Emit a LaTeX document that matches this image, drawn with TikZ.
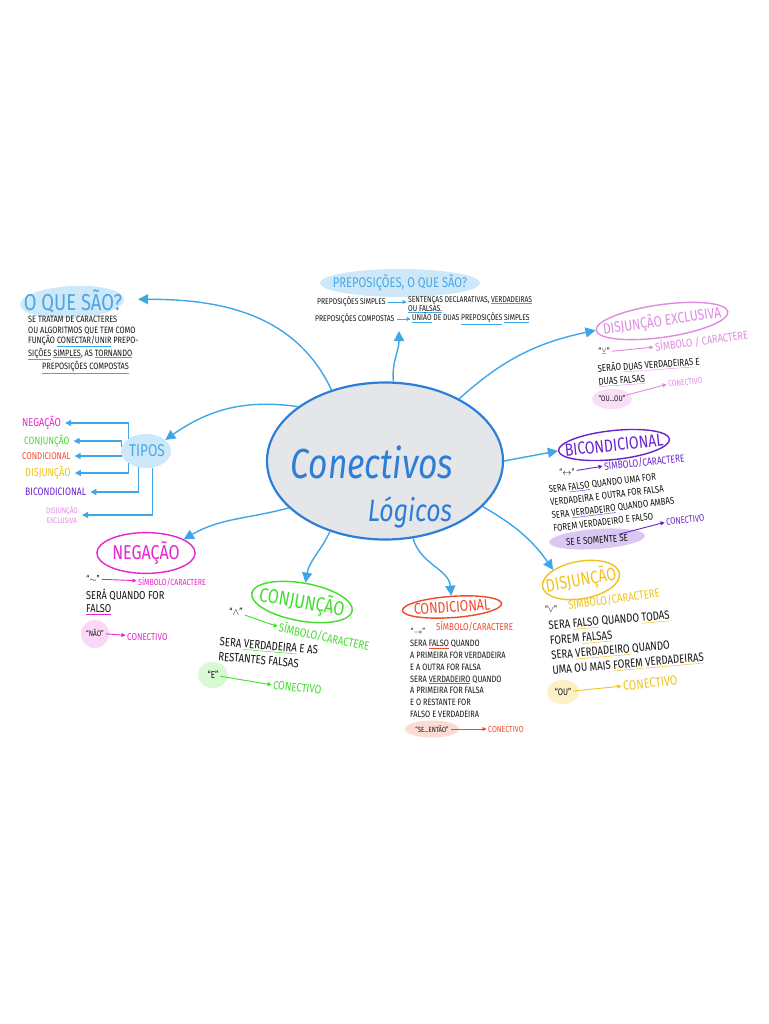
\documentclass[tikz,border=0pt]{standalone}
\usepackage{fontspec}
\usepackage{amsmath,amssymb}
\usepackage{tikz}
\usetikzlibrary{
	arrows.meta,
	positioning,
	shapes.geometric
}
\newfontfamily\hand{Fira Sans}[FakeStretch=0.8]
\newcommand{\fz}[2]{\hand\fontsize{#1}{#2}\selectfont}
\newcommand{\mk}[2]{{\color{#1}\underline{\color{ink}#2}}}
\definecolor{lnblue}{HTML}{3FA6E8}
\definecolor{cblue}{HTML}{2D7ED6}
\definecolor{tblue}{HTML}{4AA7E4}
\definecolor{lblue}{HTML}{CDE8F8}
\definecolor{cgray}{HTML}{E5E6EA}
\definecolor{ink}{HTML}{151515}
\definecolor{cmag}{HTML}{E824D2}
\definecolor{cgreen}{HTML}{3FDF2A}
\definecolor{cred}{HTML}{EF4A2C}
\definecolor{cyel}{HTML}{F2C21C}
\definecolor{cpur}{HTML}{6A22CF}
\definecolor{cpink}{HTML}{DE8CE2}

\begin{document}
\begin{tikzpicture}[
		x=1pt, y=1pt,
		core/.style={ellipse, draw=cblue, line width=2.2pt, fill=cgray, minimum width=236pt, minimum height=157pt},
		link/.style={-{Triangle[length=10pt,width=10pt]}, line width=1.4pt, draw=lnblue},
		tlink/.style={-{Triangle[length=6pt,width=6pt]}, line width=1.1pt, draw=lnblue, shorten >=4pt},
		inarrow/.style={-{Triangle[length=4pt,width=4pt]}, line width=.9pt, shorten >=1.5pt, shorten <=2pt},
		heading/.style={ellipse, draw, line width=1.4pt},
		blob/.style={ellipse, inner sep=0pt},
		txt/.style={inner sep=0pt, text=ink},
		para/.style={align=left, inner sep=0pt, text=ink, anchor=north west}
		]
		\useasboundingbox[fill=white] (0,0) rectangle (768,-1024);
		
		% =========================
		% Centre
		% =========================
		\node[core] (core) at (385,-461) {};
		\node[text=cblue, font=\fz{42}{42}\itshape] (conect) at (372,-462) {Conectivos};
		\node[text=cblue, font=\fz{31}{31}\itshape] (logic) at (410,-512) {Lógicos};
		
		% =========================
		% O que são?
		% =========================
		\node[blob, fill=lblue, minimum width=104pt, minimum height=32pt, rotate=3] (oqueb) at (72,-302) {};
		\node[txt, text=tblue, font=\fz{23}{23}] (oque) at (73,-301) {O QUE SÃO?};
		\node[para, font=\fz{9.2}{10.6}] (oquetxt) at (28,-316) {SE TRATAM DE CARACTERES\\
			OU ALGORITMOS QUE TEM COMO\\
			FUNÇÃO \mk{lnblue}{CONECTAR/UNIR} PREPO-\\
			\mk{lnblue}{SIÇÕES} \mk{lnblue}{SIMPLES}, AS \mk{lnblue}{TORNANDO}\\
			\hspace*{14pt}\mk{lnblue}{PREPOSIÇÕES COMPOSTAS}};
		
		% =========================
		% Preposições, o que são?
		% =========================
		\node[blob, fill=lblue, minimum width=160pt, minimum height=28pt] (prepob) at (400,-283) {};
		\node[txt, text=tblue, font=\fz{14}{14}] (prepo) at (400,-283) {PREPOSIÇÕES, O QUE SÃO?};
		\node[txt, anchor=west, font=\fz{8.4}{9}] (psimp) at (317,-302) {PREPOSIÇÕES SIMPLES};
		\node[para, font=\fz{8.4}{9}] (psent) at (408,-296) {SENTENÇAS DECLARATIVAS, \mk{lnblue}{VERDADEIRAS}\\ \mk{lnblue}{OU FALSAS.}};
		\node[txt, anchor=west, font=\fz{8.4}{9}] (pcomp) at (315,-319) {PREPOSIÇÕES COMPOSTAS};
		\node[txt, anchor=west, font=\fz{8.4}{9}] (puniao) at (412,-319) {\mk{lnblue}{UNIÃO} DE DUAS \mk{lnblue}{PREPOSIÇÕES} \mk{lnblue}{SIMPLES}};
		\coordinate (prepotip) at (399,-331);
		\draw[inarrow, lnblue] (psimp.east) -- (psimp.east -| psent.west);
		\draw[inarrow, lnblue] (pcomp) -- (puniao);
		
		% =========================
		% Disjunção exclusiva
		% =========================
		\node[heading, draw=cpink, text=cpink, font=\fz{15}{15}, rotate=8, inner xsep=-12.5pt, inner ysep=3pt] (dex) at (662,-321) {DISJUNÇÃO EXCLUSIVA};
		\node[txt, font=\fz{9}{9}] (dexsym) at (604,-352) {“$\veebar$”};
		\node[txt, text=cpink, font=\fz{11.5}{11.5}, rotate=8, anchor=west] (dexcar) at (655,-347) {SÍMBOLO / CARACTERE};
		\draw[inarrow, cpink] (dexsym) -- (dexcar.west);
		\node[para, font=\fz{10}{13}, rotate=4] (dextxt) at (597,-363) {SERÃO \mk{cpink}{DUAS} \mk{cpink}{VERDADEIRAS} E\\ \mk{cpink}{DUAS FALSAS}};
		\node[blob, fill=cpink!28, minimum width=40pt, minimum height=20pt] (dexb) at (612,-399) {};
		\node[txt, font=\fz{8}{8}] (dexou) at (612,-399) {“OU...OU”};
		\node[txt, text=cpink, font=\fz{8.5}{8.5}, rotate=6, anchor=west] (dexcon) at (668,-384) {CONECTIVO};
		\draw[inarrow, cpink] (dexou) -- (dexcon.west);
		
		% =========================
		% Tipos
		% =========================
		\node[blob, fill=lblue, minimum width=50pt, minimum height=34pt] (tiposb) at (146,-451) {};
		\node[txt, text=tblue, font=\fz{17}{17}] (tipos) at (147,-451) {TIPOS};
		\node[txt, text=cmag, font=\fz{11.5}{11.5}, anchor=west] (tneg) at (22,-423) {NEGAÇÃO};
		\node[txt, text=cgreen, font=\fz{10.5}{10.5}, anchor=west] (tconj) at (24,-441) {CONJUNÇÃO};
		\node[txt, text=cred, font=\fz{9.8}{9.8}, anchor=west] (tcond) at (22,-456) {CONDICIONAL};
		\node[txt, text=cyel, font=\fz{11.5}{11.5}, anchor=west] (tdisj) at (25,-473) {DISJUNÇÃO};
		\node[txt, text=cpur, font=\fz{10.8}{10.8}, anchor=west] (tbic) at (25,-492) {BICONDICIONAL};
		\node[txt, text=cpink, font=\fz{8}{9.5}, align=center] (tdex) at (62,-515) {DISJUNÇÃO\\ EXCLUSIVA};
		\draw[tlink] (tiposb.145) |- (tneg.east);
		\draw[tlink] (tiposb.170) |- (tconj.east);
		\draw[tlink] (tiposb.190) |- (tcond.east);
		\draw[tlink] (tiposb.215) |- (tdisj.east);
		\draw[tlink] (tiposb.245) |- (tbic.east);
		\draw[tlink] (tiposb.290) |- (tdex.east);
		
		% =========================
		% Bicondicional
		% =========================
		\node[heading, draw=cpur, text=cpur, font=\fz{17.5}{17.5}, rotate=6, inner xsep=-10pt, inner ysep=4pt] (bic) at (614,-445) {BICONDICIONAL};
		\node[txt, font=\fz{9}{9}] (bicsym) at (567,-472) {“$\leftrightarrow$”};
		\node[txt, text=cpur, font=\fz{10.5}{10.5}, rotate=6, anchor=west] (biccar) at (604,-466) {SÍMBOLO/CARACTERE};
		\draw[inarrow, cpur] (bicsym) -- (biccar.west);
		\node[para, font=\fz{9.8}{13}, rotate=7] (bictxt) at (548,-486) {SERA \mk{cpur}{FALSO} QUANDO UMA FOR\\
			VERDADEIRA E OUTRA FOR FALSA\\
			SERA \mk{cpur}{VERDADEIRO} QUANDO AMBAS\\
			FOREM VERDADEIRO E FALSO};
		\node[blob, fill=cpur!25, minimum width=96pt, minimum height=20pt, rotate=4] (bicb) at (597,-539) {};
		\node[txt, font=\fz{10}{10}, rotate=4] (bicse) at (597,-540) {SE E SOMENTE SE};
		\node[txt, text=cpur, font=\fz{9.5}{9.5}, rotate=6, anchor=west] (biccon) at (666,-522) {CONECTIVO};
		\draw[inarrow, cpur] (bicse) -- (biccon.west);
		
		% =========================
		% Negação
		% =========================
		\node[heading, draw=cmag, text=cmag, font=\fz{20}{20}, inner xsep=1pt, inner ysep=3pt] (neg) at (146,-553) {NEGAÇÃO};
		\node[txt, font=\fz{9.5}{9.5}] (negsym) at (93,-579) {“$\sim$”};
		\node[txt, text=cmag, font=\fz{8.8}{8.8}, anchor=west] (negcar) at (138,-582) {SÍMBOLO/CARACTERE};
		\draw[inarrow, cmag] (negsym) -- (negcar);
		\node[para, font=\fz{11.5}{13}] (negtxt) at (86,-589) {SERÁ QUANDO FOR\\ \mk{cmag}{FALSO}};
		\node[blob, fill=cmag!18, minimum size=28pt] (negb) at (95,-634) {};
		\node[txt, font=\fz{8}{8}] (negnao) at (95,-633) {“NÃO”};
		\node[txt, text=cmag, font=\fz{10}{10}, anchor=west] (negcon) at (127,-637) {CONECTIVO};
		\draw[inarrow, cmag] (negnao) -- (negcon);
		
		% =========================
		% Conjunção
		% =========================
		\node[heading, draw=cgreen, text=cgreen, font=\fz{20}{20}, rotate=-10, inner xsep=-7pt, inner ysep=2pt] (conj) at (302,-602) {CONJUNÇÃO};
		\node[txt, font=\fz{10}{10}] (conjsym) at (236,-612) {“$\wedge$”};
		\node[txt, text=cgreen, font=\fz{12}{12}, rotate=-12, anchor=west] (conjcar) at (279,-627) {SÍMBOLO/CARACTERE};
		\draw[inarrow, cgreen] (conjsym) -- (conjcar.west);
		\node[para, font=\fz{12}{15}, rotate=-5] (conjtxt) at (220,-637) {SERA \mk{cgreen}{VERDADEIRA} E AS\\ RESTANTES FALSAS};
		\node[blob, fill=cgreen!20, minimum width=30pt, minimum height=26pt] (conjb) at (213,-675) {};
		\node[txt, font=\fz{10}{10}] (conje) at (213,-675) {“E”};
		\node[txt, text=cgreen, font=\fz{12}{12}, rotate=-6, anchor=west] (conjcon) at (273,-685) {CONECTIVO};
		\draw[inarrow, cgreen] (conje) -- (conjcon.west);
		
		% =========================
		% Condicional
		% =========================
		\node[heading, draw=cred, text=cred, font=\fz{15.5}{15.5}, rotate=4, inner xsep=-3pt, inner ysep=2pt] (cond) at (452,-607) {CONDICIONAL};
		\node[txt, font=\fz{8.5}{8.5}] (condsym) at (418,-631) {“$\rightarrow$”};
		\node[txt, text=cred, font=\fz{10}{10}, anchor=west] (condcar) at (436,-626) {SÍMBOLO/CARACTERE};
		\node[para, font=\fz{9.2}{11.8}] (condtxt) at (410,-640) {SERA \mk{cred}{FALSO} QUANDO\\
			A PRIMEIRA FOR VERDADEIRA\\
			E A OUTRA FOR FALSA\\
			SERA \mk{cred}{VERDADEIRO} QUANDO\\
			A PRIMEIRA FOR FALSA\\
			E O RESTANTE FOR\\
			FALSO E VERDADEIRA};
		\node[blob, fill=cred!20, minimum width=54pt, minimum height=17pt] (condb) at (432,-729) {};
		\node[txt, font=\fz{7.5}{7.5}] (condse) at (432,-729) {“SE...ENTÃO”};
		\node[txt, text=cred, font=\fz{8.8}{8.8}, anchor=west] (condcon) at (488,-729) {CONECTIVO};
		\draw[inarrow, cred] (condse) -- (condcon);
		
		% =========================
		% Disjunção
		% =========================
		\node[heading, draw=cyel, text=cyel, font=\fz{18}{18}, rotate=10, inner xsep=-8pt, inner ysep=3pt] (disj) at (581,-580) {DISJUNÇÃO};
		\node[txt, font=\fz{9}{9}] (disjsym) at (551,-609) {“$\vee$”};
		\node[txt, text=cyel, font=\fz{12}{12}, rotate=8, anchor=west] (disjcar) at (568,-605) {SÍMBOLO/CARACTERE};
		\node[para, font=\fz{12}{15}, rotate=5] (disjtxt) at (548,-621) {SERA \mk{cyel}{FALSO} QUANDO \mk{cyel}{TODAS}\\
			FOREM \mk{cyel}{FALSAS}\\
			SERA \mk{cyel}{VERDADEIRO} QUANDO\\
			UMA OU MAIS \mk{cyel}{FOREM} \mk{cyel}{VERDADEIRAS}};
		\node[blob, fill=cyel!25, minimum width=32pt, minimum height=24pt] (disjb) at (563,-692) {};
		\node[txt, font=\fz{9.5}{9.5}] (disjou) at (563,-692) {“OU”};
		\node[txt, text=cyel, font=\fz{13.5}{13.5}, rotate=6, anchor=west] (disjcon) at (623,-686) {CONECTIVO};
		\draw[inarrow, cyel] (disjou) -- (disjcon.west);
		
		% =========================
		% Arrows from the centre
		% =========================
		\draw[link, shorten >=14pt] (core.127) to[out=115, in=0] (oqueb.east);
		\draw[link] (core.84) to[out=95, in=-90] (prepotip);
		\draw[link] (core.40) to[out=42, in=192] (dex.west);
		\draw[link] (core.148) to[out=172, in=35] (tiposb.30);
		\draw[link] (core.east) -- (bic.west);
		\draw[link] (core.206) to[out=195, in=30] (neg.20);
		\draw[link] (core.232) to[out=245, in=80] (conj.north);
		\draw[link] (core.290) to[out=-75, in=95] (cond.north);
		\draw[link] (core.335) to[out=-30, in=125] (disj.150);
		
	\end{tikzpicture}
\end{document}
